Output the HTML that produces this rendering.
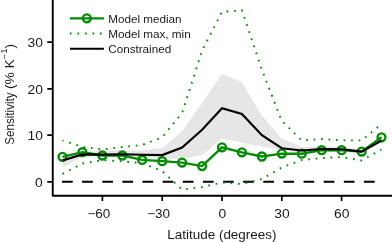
<!DOCTYPE html>
<html><head><meta charset="utf-8"><title>Sensitivity vs latitude</title>
<style>
html,body{margin:0;padding:0;background:#fff;}
svg{display:block;}
text{font-family:"Liberation Sans",sans-serif;font-size:12px;fill:#1a1a1a;}
.tk text{font-size:12.3px;}
.ax{font-size:12.3px;}
.lg text{font-size:11.7px;}
</style></head><body>
<svg width="392" height="242" viewBox="0 0 392 242">
<rect width="392" height="242" fill="#fff"/>
<defs><pattern id="st" width="2.5" height="2.5" patternUnits="userSpaceOnUse" patternTransform="rotate(27)"><rect width="2.5" height="2.5" fill="#e8e8e8"/><circle cx="1.25" cy="1.25" r="0.42" fill="#d2d2d2"/></pattern></defs>
<polygon points="62.5,155.5 82.4,151.5 102.4,150.5 122.3,150.3 142.2,150.5 162.2,148.0 182.1,131.2 202.1,103.0 222.0,73.7 241.9,82.2 261.9,115.6 281.8,138.5 301.8,147.0 321.7,146.5 341.6,147.0 361.6,149.5 381.5,137.0 381.5,142.5 361.6,153.8 341.6,151.8 321.7,151.8 301.8,152.8 281.8,149.8 261.9,146.5 241.9,142.7 222.0,138.5 202.1,155.3 182.1,158.6 162.2,158.4 142.2,156.8 122.3,156.3 102.4,156.4 82.4,157.0 62.5,167.5" fill="url(#st)"/>
<line x1="62" y1="181.8" x2="381" y2="181.8" stroke="#000" stroke-width="2" stroke-dasharray="10.7 9.43"/>
<polyline points="62.5,140.6 82.4,146.8 102.4,149.5 122.3,147.0 142.2,145.0 162.2,137.2 182.1,113.0 202.1,50.5 222.0,11.8 241.9,10.2 261.9,69.8 281.8,121.0 301.8,140.5 321.7,139.0 341.6,140.4 361.6,140.4 381.5,124.0" fill="none" stroke="#028c04" stroke-width="1.9" stroke-dasharray="1.7 5.82" stroke-dashoffset="0.6"/>
<polyline points="62.5,174.0 82.4,163.5 102.4,160.2 122.3,161.3 142.2,163.3 162.2,171.0 182.1,189.6 202.1,187.0 222.0,182.5 241.9,184.0 261.9,179.0 281.8,167.5 301.8,160.0 321.7,158.0 341.6,157.0 361.6,160.5 381.5,149.5" fill="none" stroke="#028c04" stroke-width="1.9" stroke-dasharray="1.7 5.82"/>
<polyline points="62.5,156.8 82.4,152.2 102.4,155.5 122.3,155.5 142.2,159.9 162.2,161.2 182.1,162.6 202.1,166.1 222.0,147.3 241.9,152.3 261.9,156.5 281.8,153.6 301.8,153.7 321.7,150.2 341.6,150.2 361.6,151.6 381.5,137.3" fill="none" stroke="#028c04" stroke-width="2.35"/>
<g fill="none" stroke="#028c04" stroke-width="2.4"><circle cx="62.5" cy="156.8" r="3.95"/><circle cx="82.4" cy="152.2" r="3.95"/><circle cx="102.4" cy="155.5" r="3.95"/><circle cx="122.3" cy="155.5" r="3.95"/><circle cx="142.2" cy="159.9" r="3.95"/><circle cx="162.2" cy="161.2" r="3.95"/><circle cx="182.1" cy="162.6" r="3.95"/><circle cx="202.1" cy="166.1" r="3.95"/><circle cx="222.0" cy="147.3" r="3.95"/><circle cx="241.9" cy="152.3" r="3.95"/><circle cx="261.9" cy="156.5" r="3.95"/><circle cx="281.8" cy="153.6" r="3.95"/><circle cx="301.8" cy="153.7" r="3.95"/><circle cx="321.7" cy="150.2" r="3.95"/><circle cx="341.6" cy="150.2" r="3.95"/><circle cx="361.6" cy="151.6" r="3.95"/><circle cx="381.5" cy="137.3" r="3.95"/></g>
<polyline points="62.5,160.6 82.4,154.4 102.4,154.6 122.3,154.3 142.2,154.7 162.2,155.1 182.1,147.5 202.1,129.8 222.0,108.2 241.9,114.0 261.9,135.2 281.8,148.2 301.8,150.5 321.7,149.0 341.6,149.2 361.6,151.6 381.5,140.6" fill="none" stroke="#000" stroke-width="2.1" stroke-linejoin="miter"/>
<!-- axes -->
<g stroke="#000" stroke-width="1.7" fill="none">
<path d="M52.75,0 V195.75 H392" stroke-width="1.9" stroke-linejoin="round"/>
<path d="M47.3,42.1 H52.7 M47.3,88.8 H52.7 M47.3,135.1 H52.7 M47.3,181.8 H52.7"/>
<path d="M102.4,195.7 V201 M162.2,195.7 V201 M222,195.7 V201 M281.8,195.7 V201 M341.6,195.7 V201"/>
</g>
<g class="tk">
<text x="27.6" y="47.1" textLength="15.4" lengthAdjust="spacingAndGlyphs">30</text>
<text x="27.6" y="93.7" textLength="15.4" lengthAdjust="spacingAndGlyphs">20</text>
<text x="27.6" y="140.1" textLength="15.4" lengthAdjust="spacingAndGlyphs">10</text>
<text x="35" y="186.6" textLength="7.7" lengthAdjust="spacingAndGlyphs">0</text>
<text x="87.4" y="218" textLength="22.9" lengthAdjust="spacingAndGlyphs">−60</text>
<text x="147.2" y="218" textLength="22.9" lengthAdjust="spacingAndGlyphs">−30</text>
<text x="218.6" y="218" textLength="7.7" lengthAdjust="spacingAndGlyphs">0</text>
<text x="274.2" y="218" textLength="15.4" lengthAdjust="spacingAndGlyphs">30</text>
<text x="334" y="218" textLength="15.4" lengthAdjust="spacingAndGlyphs">60</text>
</g>
<text class="ax" x="167.3" y="238.6" textLength="109.2" lengthAdjust="spacingAndGlyphs">Latitude (degrees)</text>
<text class="ax" transform="translate(14.3,144.8) rotate(-90)"><tspan x="0" textLength="52.5" lengthAdjust="spacingAndGlyphs">Sensitivity</tspan> <tspan x="55.8" textLength="45.2" lengthAdjust="spacingAndGlyphs">(% K<tspan font-size="8.5px" dy="-7.6">−1</tspan><tspan dy="7.6">)</tspan></tspan></text>
<!-- legend -->
<line x1="70" y1="18.3" x2="103.9" y2="18.3" stroke="#028c04" stroke-width="2.3"/>
<circle cx="86.8" cy="18.3" r="3.95" fill="none" stroke="#028c04" stroke-width="2.4"/>
<line x1="69.9" y1="33.45" x2="103.6" y2="33.45" stroke="#028c04" stroke-width="1.9" stroke-dasharray="1.7 5.82"/>
<line x1="70" y1="48.7" x2="103.9" y2="48.7" stroke="#000" stroke-width="2"/>
<g class="lg">
<text x="108.2" y="22.5">Model median</text>
<text x="108.2" y="37.6">Model max, min</text>
<text x="108.2" y="52.7">Constrained</text>
</g>
</svg>
</body></html>
